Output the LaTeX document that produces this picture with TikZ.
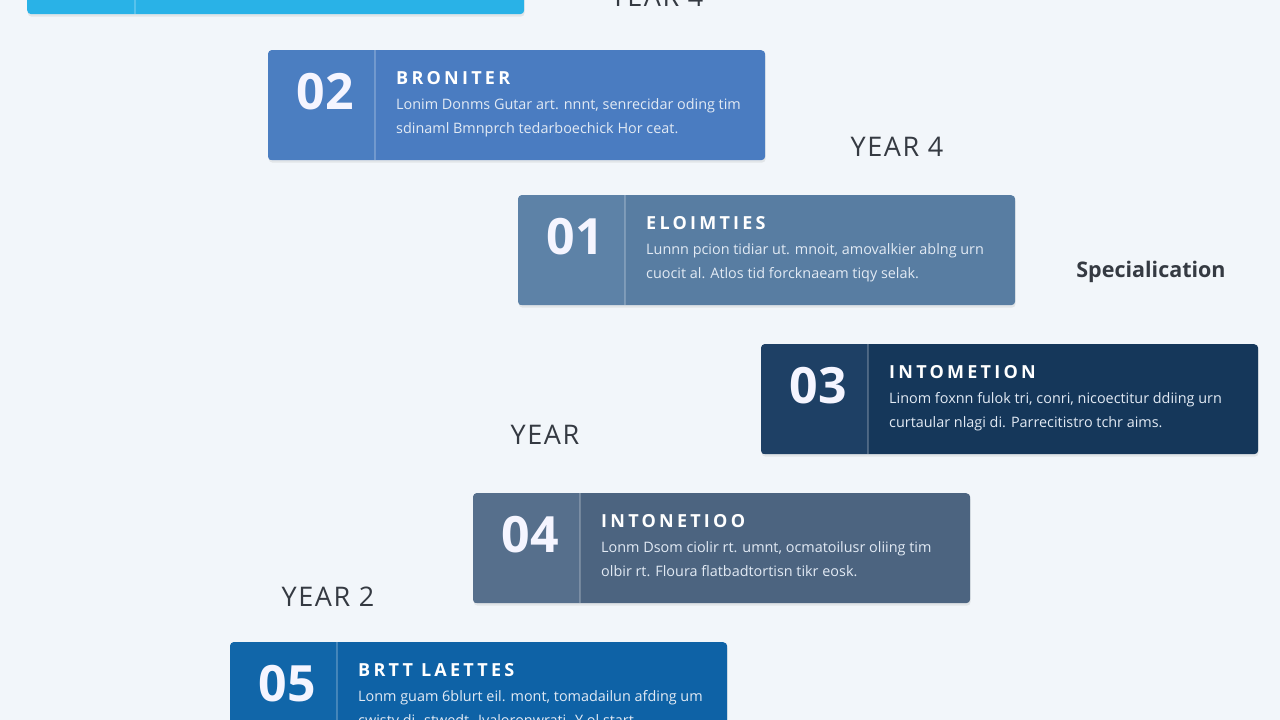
\documentclass[tikz,border=0pt]{standalone}
\usepackage{fontspec}
\setmainfont{Open Sans}
\usetikzlibrary{shadows}
\definecolor{bgc}{HTML}{F2F6FA}
\definecolor{cTopM}{HTML}{29B2E7}
\definecolor{cTopL}{HTML}{2AB3E8}
\definecolor{cTwoM}{HTML}{4A7CC1}
\definecolor{cTwoL}{HTML}{4B7EC1}
\definecolor{cOneM}{HTML}{587DA2}
\definecolor{cOneL}{HTML}{5D82A7}
\definecolor{cThrM}{HTML}{15375A}
\definecolor{cThrL}{HTML}{1E4065}
\definecolor{cFouM}{HTML}{4C6480}
\definecolor{cFouL}{HTML}{566F8C}
\definecolor{cFivM}{HTML}{0E62A6}
\definecolor{cFivL}{HTML}{1166A9}
\definecolor{yeartxt}{HTML}{353A42}
\definecolor{bodytxt}{HTML}{E2EAF4}
\tikzset{
  cardbox/.style={rectangle, rounded corners=4pt, inner sep=0pt, minimum width=497pt, minimum height=110pt,
    drop shadow={opacity=0.14, shadow xshift=0.5pt, shadow yshift=-2.5pt}},
  numtxt/.style={anchor=base, text=white!96!blue, font=\fontsize{50}{52}\selectfont\bfseries, inner sep=0pt},
  titletxt/.style={anchor=base west, text=white, font=\fontsize{18}{20}\selectfont\bfseries\addfontfeatures{LetterSpace=18}, inner sep=0pt},
  bodytext/.style={anchor=base west, text=bodytxt, font=\fontsize{14.4}{16}\selectfont, inner sep=0pt},
  yearlbl/.style={anchor=base, text=yeartxt, font=\fontsize{27}{30}\selectfont\addfontfeatures{LetterSpace=6}, inner sep=0pt},
  speclbl/.style={anchor=base, text=yeartxt, font=\fontsize{21.5}{24}\selectfont\bfseries, inner sep=0pt},
  divline/.style={white, opacity=0.22, line width=1.2pt}
}
\newcommand\yrcard[9]{%
  \node[cardbox, fill=#4, anchor=north west] (#1) at (#2,#3) {};
  \begin{scope}
    \clip[rounded corners=4pt] (#1.north west) rectangle (#1.south east);
    \fill[#5] (#1.north west) rectangle ([xshift=107pt]#1.south west);
  \end{scope}
  \draw[divline] ([xshift=107pt]#1.north west) -- ([xshift=107pt]#1.south west);
  \node[numtxt] (#1-n) at ([xshift=57pt,yshift=-59pt]#1.north west) {#6};
  \node[titletxt] (#1-t) at ([xshift=128pt,yshift=-34pt]#1.north west) {#7};
  \node[bodytext] (#1-a) at ([xshift=128pt,yshift=-59pt]#1.north west) {#8};
  \node[bodytext] (#1-b) at ([xshift=128pt,yshift=-83pt]#1.north west) {#9};
}
\begin{document}
\begin{tikzpicture}[x=1pt,y=-1pt]
\useasboundingbox (0,0) rectangle (1280,720);
\clip (0,0) rectangle (1280,720);
\fill[bgc] (0,0) rectangle (1280,720);

% top card (mostly off the page)
\node[cardbox, fill=cTopM, anchor=north west] (c0) at (27,-96) {};
\draw[divline] ([xshift=108pt]c0.north west) -- ([xshift=108pt]c0.south west);

\yrcard{c2}{268}{50}{cTwoM}{cTwoL}{02}{BRONITER}{Lonim Donms Gutar art. nnnt, senrecidar oding tim}{sdinaml Bmnprch tedarboechick Hor ceat.}
\yrcard{c1}{518}{195}{cOneM}{cOneL}{01}{ELOIMTIES}{Lunnn pcion tidiar ut. mnoit, amovalkier ablng urn}{cuocit al. Atlos tid forcknaeam tiqy selak.}
\yrcard{c3}{761}{344}{cThrM}{cThrL}{03}{INTOMETION}{Linom foxnn fulok tri, conri, nicoectitur ddiing urn}{curtaular nlagi di. Parrecitistro tchr aims.}
\yrcard{c4}{473}{493}{cFouM}{cFouL}{04}{INTONETIOO}{Lonm Dsom ciolir rt. umnt, ocmatoilusr oliing tim}{olbir rt. Floura flatbadtortisn tikr eosk.}
\yrcard{c5}{230}{642}{cFivM}{cFivL}{05}{BRTT LAETTES}{Lonm guam 6blurt eil. mont, tomadailun afding um}{cwisty di. stwedt. Ivaloronwrati. Y ol start}

\node[yearlbl] (y0) at (657,6) {YEAR 4};
\node[yearlbl] (y4) at (897,156) {YEAR 4};
\node[speclbl] (sp) at (1151,277) {Specialication};
\node[yearlbl] (y3) at (545,444) {YEAR};
\node[yearlbl] (y2) at (328,606) {YEAR 2};
\end{tikzpicture}
\end{document}
